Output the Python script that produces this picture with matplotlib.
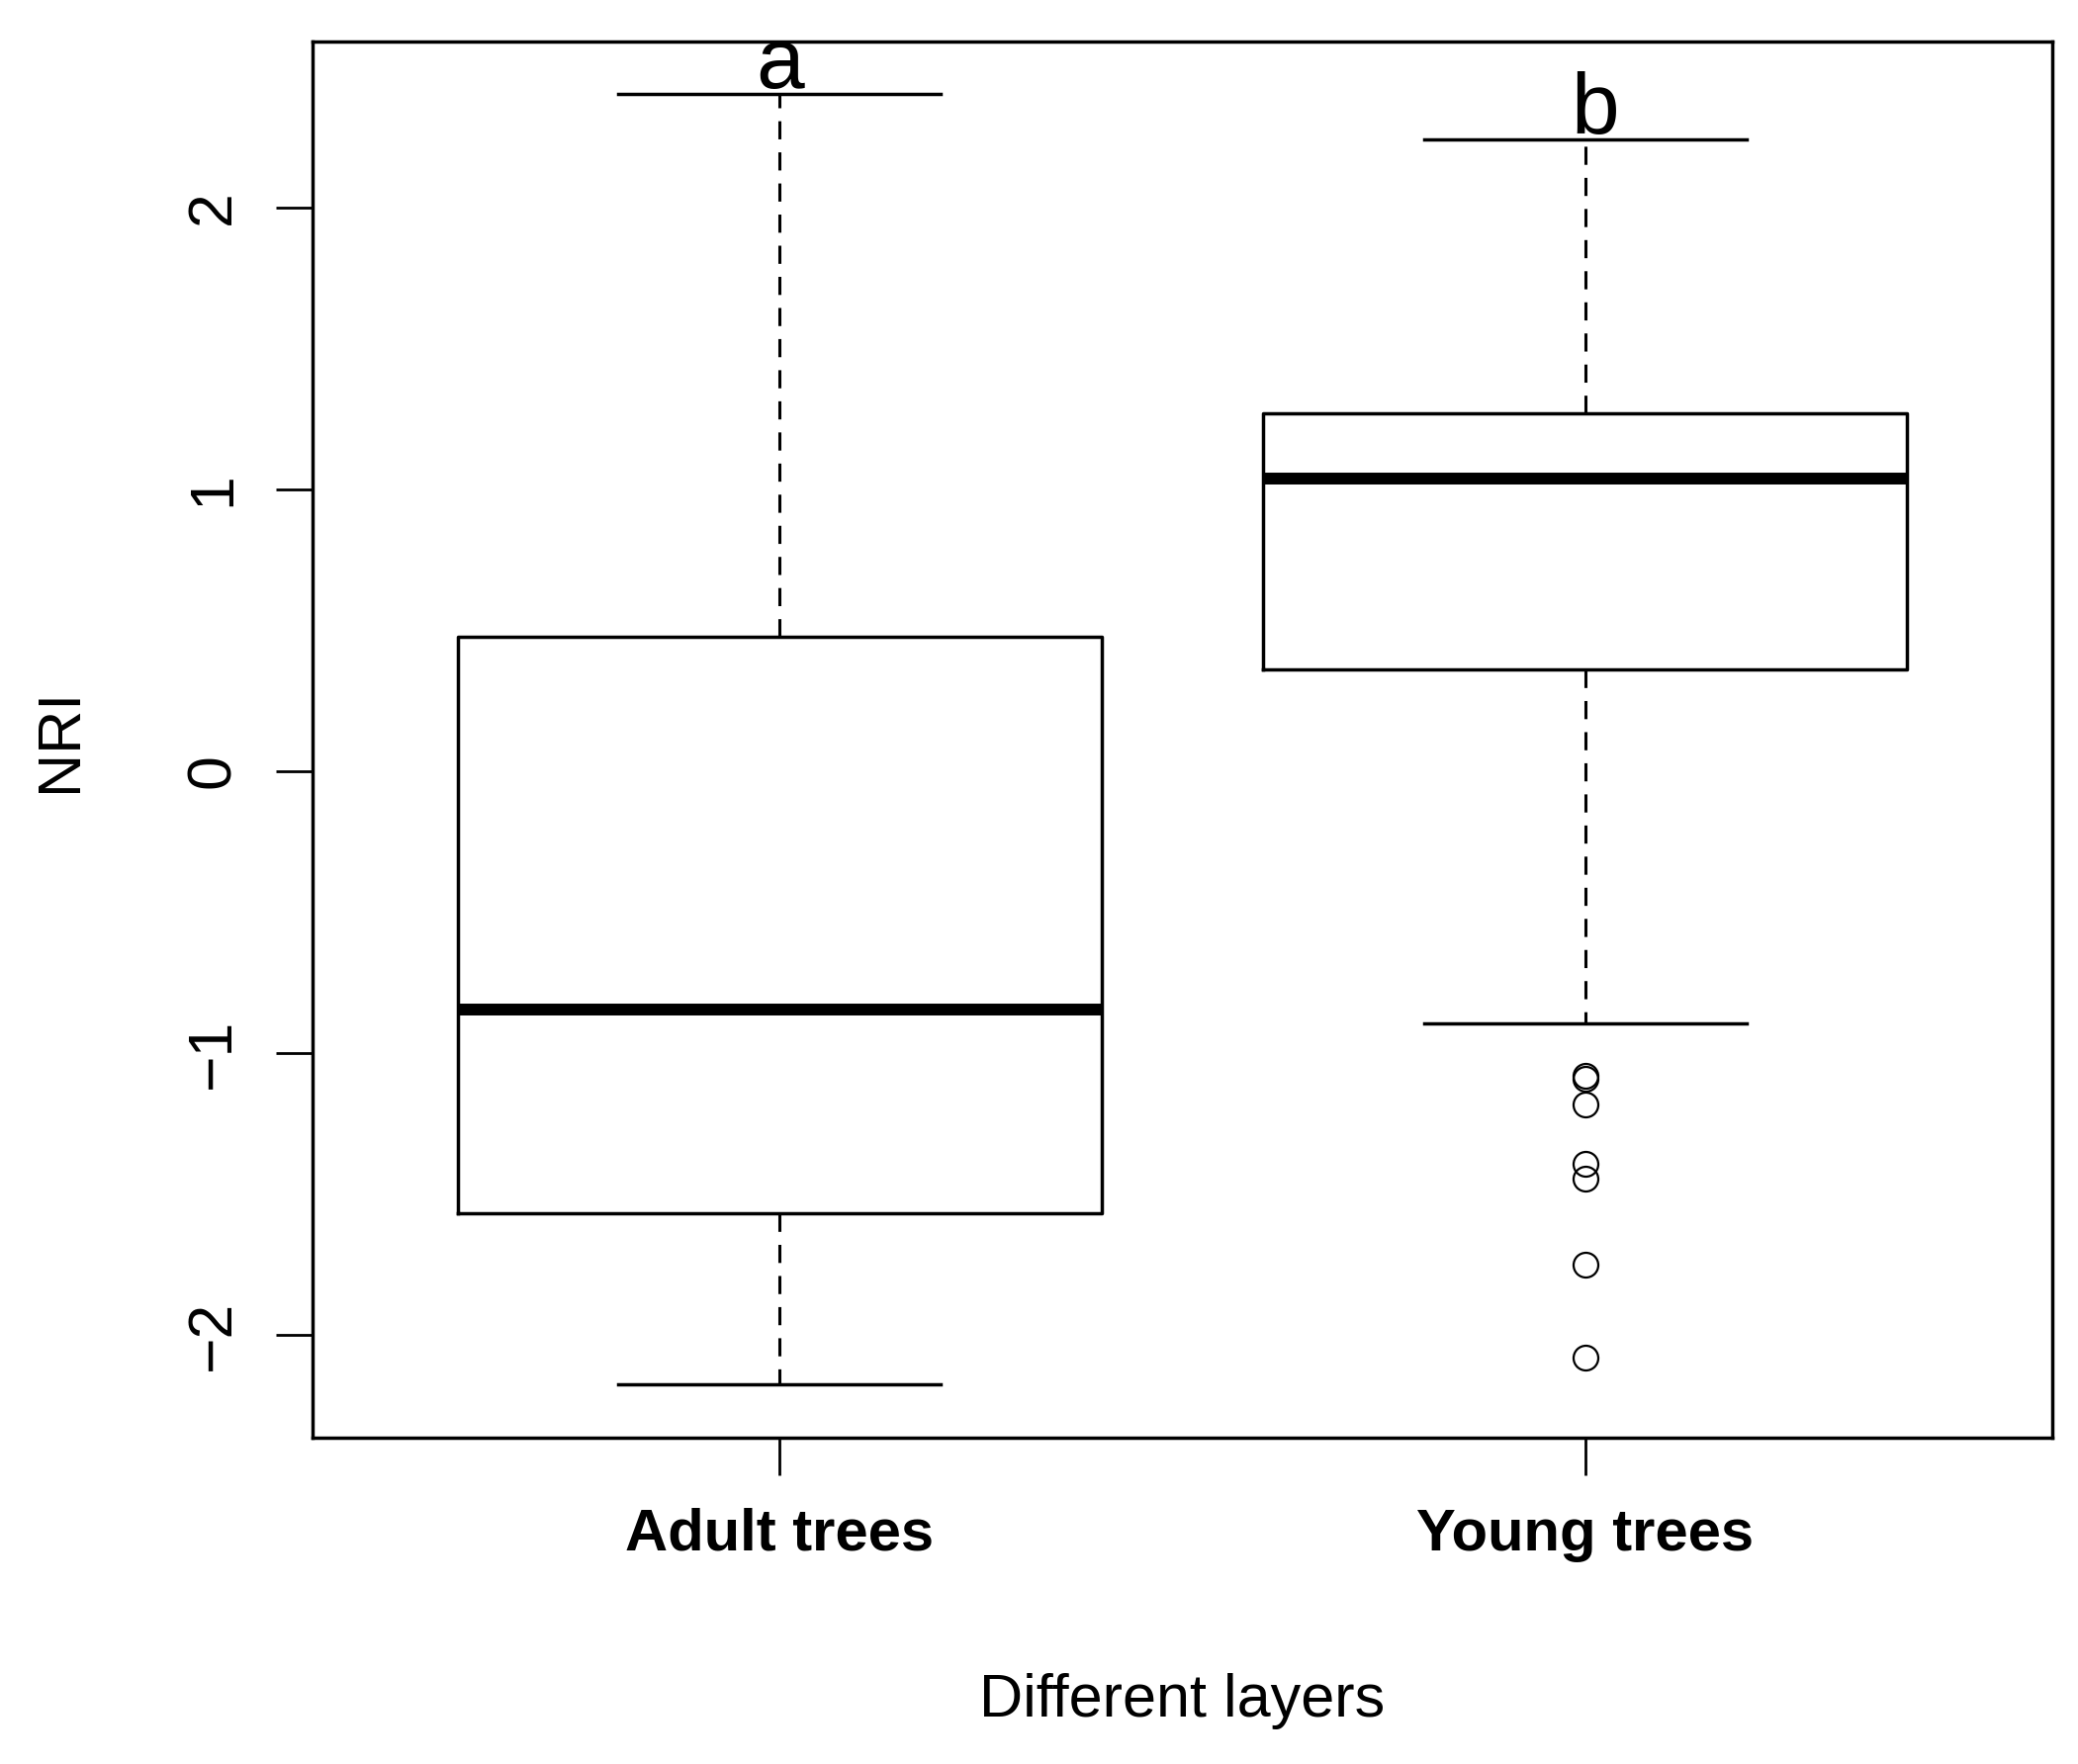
import matplotlib
matplotlib.use('Agg')
import matplotlib.pyplot as plt

# box statistics
groups = ['Adult trees', 'Young trees']
whislo = [-2.175, -0.895]
q1 = [-1.568, 0.361]
med = [-0.846, 1.039]
q3 = [0.477, 1.270]
whishi = [2.403, 2.242]
fliers = [[], [-1.081, -1.091, -1.182, -1.393, -1.446, -1.751, -2.081]]
letters = ['a', 'b']
yticks = [-2, -1, 0, 1, 2]

plt.rcParams['font.family'] = ['Liberation Sans', 'DejaVu Sans']

stats = []
for i in range(len(groups)):
    stats.append({'label': groups[i], 'whislo': whislo[i], 'q1': q1[i],
                  'med': med[i], 'q3': q3[i], 'whishi': whishi[i],
                  'fliers': fliers[i]})

fig = plt.figure(figsize=(21.01, 17.84), dpi=100)
ax = fig.add_axes([0.1504, 0.185, 0.8372, 0.7915])

lw = 2.5
ax.bxp(stats, positions=[1, 2], widths=0.8, capwidths=0.4,
       boxprops=dict(color='black', linewidth=lw),
       medianprops=dict(color='black', linewidth=8.6, solid_capstyle='butt'),
       whiskerprops=dict(color='black', linewidth=2.2, linestyle=(0, (6, 4.3))),
       capprops=dict(color='black', linewidth=lw),
       flierprops=dict(marker='o', markerfacecolor='none', markeredgecolor='black',
                       markersize=18, markeredgewidth=1.6))

ax.set_xlim(0.42, 2.58)
ax.set_ylim(-2.365, 2.589)

for sp in ax.spines.values():
    sp.set_linewidth(lw)

ax.set_yticks(yticks)
ax.set_yticklabels([str(v).replace('-', '\u2212') for v in yticks],
                   rotation=90, va='center', fontsize=45)
ax.set_xticks([1, 2])
ax.set_xticklabels(groups, fontsize=43, fontweight='bold')
ax.tick_params(axis='both', length=27, width=2.0, pad=24)

ax.set_xlabel('Different layers', fontsize=44)
ax.xaxis.set_label_coords(0.5, -0.1686)
ax.set_ylabel('NRI', fontsize=44)
ax.yaxis.set_label_coords(-0.1285, 0.5)

offs = [0, 7]
for i in range(len(groups)):
    ax.annotate(letters[i], (i + 1, whishi[i]), xytext=(offs[i], 4),
                textcoords='offset points', ha='center', va='baseline',
                fontsize=63)

plt.savefig('out.png', dpi=100)
